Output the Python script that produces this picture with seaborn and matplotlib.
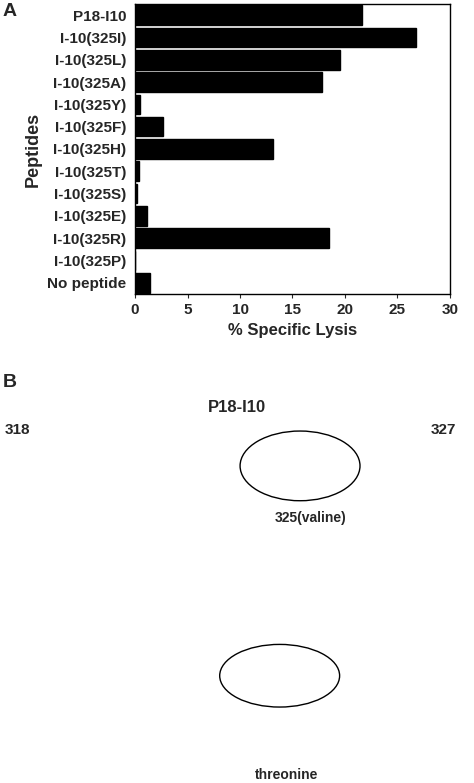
import matplotlib
matplotlib.use("Agg")
import matplotlib.pyplot as plt
import seaborn as sns
import pandas as pd
from matplotlib.patches import Ellipse

peptides = ["P18-I10", "I-10(325I)", "I-10(325L)", "I-10(325A)", "I-10(325Y)", "I-10(325F)",
            "I-10(325H)", "I-10(325T)", "I-10(325S)", "I-10(325E)", "I-10(325R)", "I-10(325P)", "No peptide"]
lysis = [21.6, 26.8, 19.5, 17.8, 0.5, 2.7, 13.1, 0.4, 0.2, 1.1, 18.5, 0.0, 1.4]
xticks = [0, 5, 10, 15, 20, 25, 30]

sns.set_style("white")
plt.rcParams['font.family'] = ['Liberation Sans', 'DejaVu Sans']
plt.rcParams['font.weight'] = 'bold'

df = pd.DataFrame({"Peptides": peptides, "lysis": lysis})
fig = plt.figure(figsize=(4.74, 7.83), dpi=100)
ax = fig.add_axes([0.285, 0.6245, 0.664, 0.3705])
sns.barplot(data=df, x="lysis", y="Peptides", color="black", width=0.88, ax=ax,
            edgecolor="black", saturation=1)
ax.set_xlim(0, 30)
ax.set_xticks(xticks)
ax.set_xlabel("% Specific Lysis", fontsize=12, fontweight="bold")
ax.set_ylabel("Peptides", fontsize=13, fontweight="bold")
ax.tick_params(axis="both", labelsize=11, length=3, left=False, bottom=True)
for s in ax.spines.values():
    s.set_color("black"); s.set_linewidth(1)
for t in ax.get_xticklabels() + ax.get_yticklabels():
    t.set_fontweight("bold")

fig.text(0.005, 0.985, "A", fontsize=14, fontweight="bold", va="center")
fig.text(0.005, 0.512, "B", fontsize=14, fontweight="bold", va="center")
fig.text(0.50, 0.479, "P18-I10", fontsize=12, fontweight="bold", ha="center", va="center")
fig.text(0.01, 0.451, "318", fontsize=11, fontweight="bold", va="center")
fig.text(0.935, 0.451, "327", fontsize=11, fontweight="bold", ha="center", va="center")
fig.text(0.655, 0.338, "325(valine)", fontsize=10, fontweight="bold", ha="center", va="center")
fig.text(0.605, 0.01, "threonine", fontsize=10, fontweight="bold", ha="center", va="center")
fig.patches.append(Ellipse((0.633, 0.405), 0.253, 0.089, transform=fig.transFigure,
                           fill=False, edgecolor="black", lw=1))
fig.patches.append(Ellipse((0.59, 0.137), 0.253, 0.08, transform=fig.transFigure,
                           fill=False, edgecolor="black", lw=1))
fig.savefig("out.png", dpi=100)
